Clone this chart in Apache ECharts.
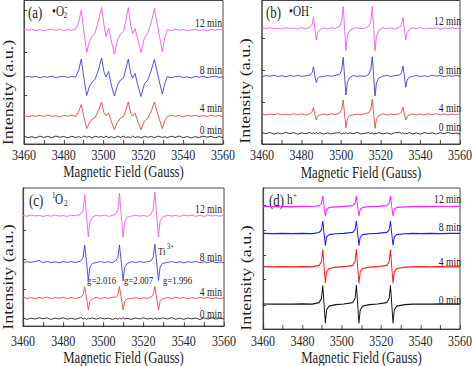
<!DOCTYPE html>
<html><head><meta charset="utf-8">
<script src="https://cdn.jsdelivr.net/npm/echarts@6/dist/echarts.min.js"></script>
<style>html,body{margin:0;padding:0;background:#fff;overflow:hidden}
#wrap{width:474px;height:366px;overflow:hidden}
#c{width:592.5px;height:366px;transform:scaleX(0.8);transform-origin:0 0}</style>
</head><body><div id="wrap"><div id="c"></div></div>
<script>
// ---------------- DATA ----------------
const timeLabels = ['12 min', '8 min', '4 min', '0 min'];
const xTicks = [3460, 3480, 3500, 3520, 3540, 3560];

// (a) •O2-
const fieldA = [3460,3462,3464,3466,3468,3470,3472,3474,3476,3478,3480,3482,3484,3486,
 3487.5,3488.8,3490.0,3491.5,3492.8,3494.2,3495.7,3497.5,3499.0,3500.2,3501.2,3502.5,3504.0,3505.4,3507.0,3508.5,3510.0,3511.2,3512.4,3513.6,3514.6,3515.8,3517.3,3518.8,3520.5,3522.2,3524.0,3525.5,3527.5,3529.5,3530.7,
 3532,3534,3536,3538,3540,3542,3544,3546,3548,3550,3552,3554,3556,3558,3560];
const a12 = [0.6,-0.4,0.8,-0.6,0.3,-0.8,0.5,0.9,-0.3,0.6,-0.7,0.4,-0.2,0.8,
 8,20,0,-22.5,-12,-6,-3,10,22.5,5,-6.5,1.5,-12,-24,-10,-4,-1.5,10,22.5,5,-3.5,1.5,-10,-22.5,-8,-3,8,21.5,0,-21.5,-8,
 0.5,-0.6,0.9,-0.3,0.6,-0.8,0.2,0.7,-0.5,0.4,-0.9,0.6,-0.2,0.8,-0.4];
const a8 = [-0.5,0.7,-0.2,0.6,-0.8,0.4,-0.3,0.9,-0.6,0.2,0.7,-0.4,0.5,-0.2,
 7,18,0,-18.5,-10,-5,-2.5,8,19,5,0,5.5,-9,-19,-8,-3,-1,8,18,4,-1,3.5,-9,-19.5,-7,-3,7,17.5,0,-17,-7,
 0.4,-0.7,0.3,0.8,-0.5,0.2,-0.9,0.6,-0.3,0.7,-0.6,0.3,0.9,-0.4,0.2];
const a4 = [0.7,-0.9,0.4,-0.3,0.8,-0.6,1.0,-0.4,0.3,-0.8,0.6,-0.2,0.9,-0.5,
 4.5,11.5,0,-12.5,-7,-3,-1.5,6,14,3,0.5,3,-6,-13.5,-6,-2,-0.5,6,14,3,0,3,-6,-13.5,-5,-2,5,14,0,-12.5,-5,
 -0.6,0.8,-0.3,0.5,-0.9,0.7,-0.2,0.6,-0.7,0.4,-0.5,0.9,-0.3,0.6,-0.8];
const a0 = [0.8,-0.6,0.3,-1.0,0.9,-0.4,0.6,-0.8,1.0,-0.3,0.5,-0.9,0.7,-0.5,
 0.4,-0.8,0.9,-0.3,0.6,-1.0,0.8,-0.2,0.5,-0.7,1.0,-0.6,0.3,-0.9,0.7,-0.4,0.8,-0.5,0.2,-0.8,0.9,-0.6,0.4,-1.0,0.7,-0.3,0.6,-0.7,0.9,-0.5,0.3,
 -0.6,0.8,-0.4,1.0,-0.7,0.5,-0.9,0.3,-0.5,0.8,-0.2,0.6,-0.8,0.4,-0.6];
const offsetsA = [114, 67, 28, 7];

// (b) •OH-
const fieldB = [3460,3462,3464,3466,3468,3470,3472,3474,3476,3478,3480,3482,
 3484.3,3485.3,3486.0,3486.7,3487.4,3488.1,3489.2,
 3491,3493,3495,3497,
 3499.3,3500.3,3501.0,3501.7,3502.4,3503.1,3504.2,
 3506,3508,3510,3512,
 3514.0,3515.0,3515.7,3516.4,3517.1,3517.8,3518.9,
 3521,3523,3525,3527,
 3529.5,3530.5,3531.2,3531.9,3532.6,3533.3,3534.4,
 3536,3538,3540,3542,3544,3546,3548,3550,3552,3554,3556,3558,3560];
const b12 = [0.5,-0.3,0.7,-0.6,0.2,-0.8,0.6,-0.2,0.4,-0.7,0.8,-0.4,
 1.1,3.9,11,0,-11.7,-4.1,-1.2, 0.3,-0.6,0.5,-0.2,
 2.2,7.6,21.7,0,-22.3,-7.8,-2.2, -0.4,0.6,-0.5,0.3,
 2.2,7.6,21.7,0,-22.3,-7.8,-2.2, 0.6,-0.3,0.4,-0.7,
 1.1,3.9,11,0,-11.7,-4.1,-1.2,
 0.5,-0.4,0.8,-0.6,0.3,-0.2,0.7,-0.8,0.4,-0.5,0.6,-0.3,0.2];
const b8 = [-0.6,0.4,-0.2,0.7,-0.5,0.3,-0.8,0.5,-0.3,0.6,-0.4,0.2,
 1.0,3.3,9.3,0,-6.5,-2.4,-0.8, -0.5,0.4,-0.3,0.6,
 1.8,6.5,18.7,0,-19,-6.6,-1.9, 0.5,-0.4,0.2,-0.6,
 1.9,6.8,19.3,0,-20,-7,-2, -0.3,0.7,-0.5,0.4,
 1,3.5,10,0,-11.3,-4,-1.1,
 -0.4,0.6,-0.7,0.3,-0.5,0.8,-0.2,0.5,-0.6,0.4,-0.3,0.7,-0.4];
const b4 = [0.6,-0.7,0.3,-0.4,0.8,-0.5,0.2,-0.6,0.7,-0.3,0.5,-0.8,
 0.7,2.5,7,0,-5.7,-2,-0.6, 0.4,-0.6,0.7,-0.3,
 1.4,5,14.3,0,-13.3,-4.7,-1.3, -0.6,0.3,-0.5,0.7,
 1.5,5.2,15,0,-14,-4.9,-1.4, 0.5,-0.7,0.3,-0.4,
 0.7,2.5,7,0,-5.7,-2,-0.6,
 0.3,-0.6,0.5,-0.8,0.6,-0.2,0.7,-0.5,0.4,-0.7,0.3,-0.4,0.6];
const b0 = [0.7,-0.5,0.9,-0.8,0.3,-0.6,1.0,-0.4,0.6,-0.9,0.5,-0.3,
 0.8,-0.7,0.4,-0.5,0.9,-0.2,0.6, -0.8,0.5,-0.6,0.3,
 0.7,-0.9,0.4,-0.3,0.8,-0.6,0.5, -0.4,0.9,-0.7,0.2,
 0.6,-0.5,0.8,-0.9,0.3,-0.4,0.7, -0.6,0.4,-0.8,0.5,
 0.9,-0.3,0.6,-0.7,0.2,-0.5,0.8,
 -0.6,0.4,-0.9,0.7,-0.3,0.5,-0.8,0.6,-0.4,0.9,-0.5,0.3,-0.7];
const offsetsB = [115.7, 68, 29.7, 10.7];

// (c) 1O2
const fieldC = [3460,3462,3464,3466,3468,3470,3472,3474,3476,3478,3480,3482,3484,3486,
 3488.8,3489.9,3490.7,3491.6,3492.5,3493.3,3494.5,
 3496.5,3498.5,3500.5,3502.5,3504.5,
 3506.1,3507.2,3508.0,3508.9,3509.8,3510.6,3511.8,
 3514,3516,3518,3520,3522,
 3523.7,3524.8,3525.6,3526.5,3527.4,3528.2,3529.4,
 3532,3534,3536,3538,3540,3542,3544,3546,3548,3550,3552,3554,3556,3558,3560];
const c12 = [0.4,-0.6,0.7,-0.3,0.5,-0.8,0.3,-0.4,0.8,-0.5,0.2,-0.7,0.6,-0.2,
 1.5,6,21.7,0,-21.7,-6,-1.5, 0.5,-0.4,0.7,-0.6,0.3,
 1.6,6.5,23,0,-22,-6.2,-1.6, -0.3,0.6,-0.5,0.4,-0.7,
 1.7,6.8,24,0,-21.7,-6,-1.5,
 0.6,-0.4,0.3,-0.7,0.8,-0.2,0.5,-0.6,0.4,-0.8,0.7,-0.3,0.2,-0.5,0.6];
const c8 = [-0.5,0.4,-0.3,0.6,1.8,-0.6,0.7,-0.4,0.3,-0.7,0.5,-0.2,0.6,-0.4,
 1.2,4.8,17.3,0,-18.7,-5.2,-1.3, -0.4,0.6,-0.3,0.5,-0.6,
 1.2,4.9,17.5,0,-19,-5.3,-1.3, 0.4,-0.5,0.7,-0.3,0.5,
 1.3,5.1,18.3,0,-18.7,-5.2,-1.3,
 -0.3,0.6,-0.5,0.4,-0.8,0.5,-0.2,0.7,-0.6,0.3,-0.4,0.8,-0.5,0.2,-0.6];
const c4 = [0.7,-0.5,0.3,-0.8,0.6,-0.3,0.9,-0.6,0.4,-0.2,0.7,-0.7,0.5,-0.4,
 0.8,3.2,11.3,0,-12,-3.4,-0.8, 0.6,-0.7,0.4,-0.3,0.8,
 0.8,3.3,11.7,0,-12.3,-3.4,-0.9, -0.6,0.5,-0.8,0.3,-0.4,
 0.8,3.2,11.5,0,-12,-3.4,-0.8,
 0.5,-0.7,0.8,-0.3,0.6,-0.9,0.4,-0.5,0.7,-0.2,0.6,-0.8,0.3,-0.5,0.4];
const c0 = [0.6,-0.8,0.4,-0.5,0.9,-0.3,0.7,-0.9,0.5,-0.4,0.8,-0.6,0.3,-0.7,
 0.9,-0.5,0.6,-0.8,0.4,-0.3,0.7, -0.6,0.8,-0.4,0.5,-0.9,
 0.3,-0.7,0.6,-0.5,0.9,-0.4,0.2, -0.8,0.6,-0.3,0.7,-0.5,
 0.4,-0.9,0.8,-0.6,0.3,-0.4,0.7,
 -0.5,0.9,-0.7,0.4,-0.8,0.6,-0.3,0.5,-0.9,0.7,-0.4,0.8,-0.6,0.3,-0.5];
const offsetsC = [112.7, 65.3, 28.7, 7.7];

// (d) h+
const fieldD = [3460,3465,3470,3475,3480,3485,3488.5,
 3489.7,3490.35,3491.0,3491.65,3492.3,
 3493.5,3497,3501,3505.5,
 3506.75,3507.4,3508.05,3508.7,3509.35,
 3510.6,3514,3518,3522.8,
 3524.05,3524.7,3525.35,3526.0,3526.65,
 3527.9,3532,3536,3540,3545,3550,3555,3560];
const d12 = [0.1,-0.1,0.15,-0.1,0.1,0,0.9, 3.2,10.7,0,-10,-3, -1,-0.3,0.1,0.9,
 3.3,11,0,-10,-3, -1,-0.2,0.1,0.9, 3.3,11,0,-10,-3, -1,-0.3,-0.1,0.1,-0.1,0.1,0,0.1];
const d8 = [0.1,-0.1,0.1,-0.15,0.1,-0.1,1, 3.8,12.7,0,-12.3,-3.7, -1.2,-0.3,0.1,1,
 3.9,13,0,-12.5,-3.8, -1.2,-0.3,0.1,1, 3.8,12.7,0,-12.3,-3.7, -1.2,-0.3,0.1,-0.1,0.1,-0.1,0.1,0];
const d4 = [0.1,-0.1,0.15,-0.1,0.1,-0.1,1.4, 5.3,17.7,0,-16.7,-5, -1.7,-0.4,0.1,1.4,
 5.4,18,0,-17,-5.1, -1.7,-0.4,0.1,1.4, 5.3,17.7,0,-16.7,-5, -1.7,-0.4,-0.1,0.1,-0.1,0.1,0,0.1];
const d0 = [0.1,-0.1,0.1,-0.1,0.15,-0.1,1.5, 5.8,19.3,0,-19.7,-5.9, -2,-0.5,0.1,1.5,
 5.9,19.6,0,-19.9,-6, -2,-0.5,0.1,1.5, 5.8,19.3,0,-19.7,-5.9, -2,-0.5,-0.1,0.1,-0.1,0.15,0,-0.1];
const offsetsD = [126, 98.3, 64, 25.7];

// ---------------- LAYOUT ----------------
const S = 0.8;             // horizontal squeeze of the original figure
const X = v => v / S;      // final px -> render px
const FONT = '"Liberation Serif", "Times New Roman", serif';
const TXT = '#1e1e1e';
const thinColors = ['#e860e8', '#4040d8', '#e24a4a', '#222222'];
const boldColors = ['#ff22ff', '#1a1aff', '#ff1a1a', '#111111'];

const panels = [
  {field: fieldA, traces: [a12, a8, a4, a0], offs: offsetsA, grid: [24, 0.5, 223, 144], yMax: 143.5,
   yTicks: [134, 92, 49], labMargin: 4, nameGap: 19, colors: thinColors, lw: 1},
  {field: fieldB, traces: [b12, b8, b4, b0], offs: offsetsB, grid: [262, 0.5, 463, 144], yMax: 143.5,
   yTicks: [106, 74, 42], labMargin: 4, nameGap: 20, colors: thinColors, lw: 1},
  {field: fieldC, traces: [c12, c8, c4, c0], offs: offsetsC, grid: [23, 188, 224, 329], yMax: 141,
   yTicks: [98, 68, 38], labMargin: 7, nameGap: 20, colors: thinColors, lw: 1},
  {field: fieldD, traces: [d12, d8, d4, d0], offs: offsetsD, grid: [263, 188, 465, 333], yMax: 145,
   yTicks: [127, 102, 76, 51, 25], labMargin: 4, nameGap: 14, colors: boldColors, lw: 1.2}
];

const grids = [], xAxes = [], yAxes = [], series = [];
panels.forEach((p, gi) => {
  const [l, t, r, b] = p.grid;
  grids.push({left: X(l), top: t, width: X(r) - X(l), height: b - t, show: true,
    borderColor: '#333', borderWidth: 1, backgroundColor: 'transparent'});
  xAxes.push({type: 'value', gridIndex: gi, min: 3460, max: 3560, interval: 20,
    axisLine: {show: true, lineStyle: {color: '#333', width: 1}},
    axisTick: {show: true, inside: true, length: 4, lineStyle: {color: '#333'}},
    minorTick: {show: true, splitNumber: 2, length: 4, lineStyle: {color: '#333'}},
    splitLine: {show: false}, minorSplitLine: {show: false},
    axisLabel: {margin: p.labMargin, fontFamily: FONT, fontSize: 15, color: TXT,
      formatter: v => xTicks.includes(v) ? String(v) : ''},
    name: 'Magnetic Field (Gauss)', nameLocation: 'middle', nameGap: p.nameGap,
    nameTextStyle: {fontFamily: FONT, fontSize: 16, color: TXT}});
  yAxes.push({type: 'value', gridIndex: gi, min: 0, max: p.yMax,
    axisLine: {show: true, lineStyle: {color: '#333', width: 1}},
    axisTick: {show: true, inside: true, length: 4, customValues: p.yTicks, lineStyle: {color: '#333'}},
    axisLabel: {show: false}, splitLine: {show: false}});
  p.traces.forEach((tr, k) => {
    series.push({type: 'line', name: timeLabels[k], xAxisIndex: gi, yAxisIndex: gi,
      showSymbol: false, symbol: 'none', silent: true, animation: false,
      lineStyle: {color: p.colors[k], width: p.lw}, z: 2 + k,
      data: p.field.map((f, i) => [f, p.offs[k] + tr[i]])});
  });
});

function T(x, y, text, size, align, extra) {
  return Object.assign({type: 'text', x: X(x), y: y, silent: true,
    style: {text: text, fontFamily: FONT, fontSize: size, fill: TXT,
      align: align || 'left', verticalAlign: 'middle'}}, extra || {});
}
const g = [];
// panel tags
g.push(T(28, 12, '(a)', 16)); g.push(T(52, 12, '\u2022O', 14)); g.push(T(63.5, 15.5, '2', 9)); g.push(T(64.5, 6.5, '-', 10));
g.push(T(266, 12, '(b)', 16)); g.push(T(289, 12, '\u2022OH', 14)); g.push(T(309.5, 6.5, '-', 10));
g.push(T(29, 200, '(c)', 16)); g.push(T(52, 195, '1', 9)); g.push(T(55, 200, 'O', 14)); g.push(T(64, 203.5, '2', 9));
g.push(T(269, 200, '(d)', 16)); g.push(T(287, 200, 'h', 14)); g.push(T(293, 195.5, '+', 9));
// time labels
[[222, [23, 70, 108, 129.5]], [461, [21, 70, 108, 127]], [222, [209, 257, 292, 314]], [461, [199, 227, 262, 300]]]
  .forEach(([x, ys]) => ys.forEach((y, k) => g.push(T(x, y, timeLabels[k], 12, 'right'))));
// panel c annotations
g.push(T(158, 251, 'Ti', 11)); g.push(T(167, 247, '3+', 8));
g.push(T(87, 280, 'g=2.016', 11)); g.push(T(124, 280, 'g=2.007', 11)); g.push(T(163, 280, 'g=1.996', 11));
// y titles
[[8, 92.5], [245.5, 91], [8, 277], [246, 278]].forEach(([x, y]) =>
  g.push(T(x, y, 'Intensity (a.u.)', 18, 'center', {rotation: Math.PI / 2})));

const chart = echarts.init(document.getElementById('c'), null, {renderer: 'svg'});
chart.setOption({animation: false, backgroundColor: '#fff', grid: grids, xAxis: xAxes, yAxis: yAxes,
  series: series, graphic: g});
</script></body></html>
